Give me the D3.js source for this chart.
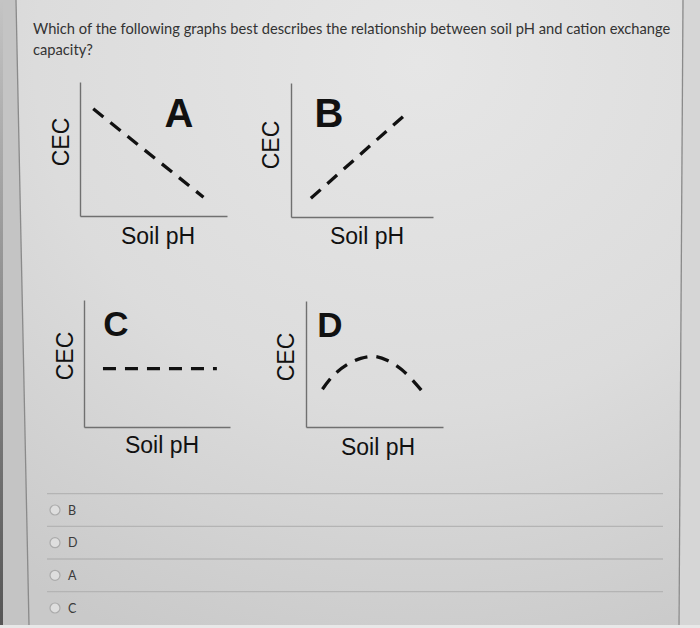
<!DOCTYPE html>
<html lang="en">
  <head>
    <title>Soil pH vs CEC</title>
    <meta charset="utf-8"/>
    <script type="text/javascript" src="https://cdn.jsdelivr.net/npm/d3@7"></script>
    <style>
     body { margin: 0; background: #d8d8d8; }
     svg { display: block; }
    </style>
  </head>
  <body>
    <script type="text/javascript">
     // data ------------------------------------------------------------------
     const questionLines = ["Which of the following graphs best describes the relationship between soil pH and cation exchange",
                            "capacity?"];
     const panelLabels = ["A", "B", "C", "D"];
     const xTitle = "Soil pH";
     const yTitle = "CEC";
     // [soil pH, CEC] on a 0..10 sketch scale
     const lineA = [[0.9, 8.0], [8.4, 1.4]];
     const lineB = [[1.4, 1.4], [8.0, 7.6]];
     const lineC = [[1.3, 4.6], [9.1, 4.6]];
     const lineD = [[1.2, 3.0], [2.0, 4.1], [3.0, 4.95], [4.0, 5.45], [5.0, 5.6],
                    [6.0, 5.25], [7.0, 4.55], [8.0, 3.45], [8.8, 2.4]];
     const answerOptions = ["B", "D", "A", "C"];

     // layout (pixel frame of each small graph) --------------------------------
     const frames = [
       {x0: 80,  y0: 216, w: 147, h: 134, lx: 179, ly: 127, ls: 40, cx: 61,  cy: 142, px: 158, py: 244, data: lineA},
       {x0: 291, y0: 217, w: 142, h: 134, lx: 329, ly: 127, ls: 40, cx: 271, cy: 145, px: 367, py: 244, data: lineB},
       {x0: 84,  y0: 427, w: 146, h: 127, lx: 116, ly: 336, ls: 35, cx: 65,  cy: 356, px: 162, py: 453, data: lineC},
       {x0: 306, y0: 427, w: 137, h: 126, lx: 330, ly: 337, ls: 35, cx: 286, cy: 357, px: 378, py: 455, data: lineD}
     ];

     const W = 700, H = 628;
     const svg = d3.select("body").append("svg").attr("width", W).attr("height", H);

     // photographed screen background -------------------------------------------
     const defs = svg.append("defs");
     const rg = defs.append("radialGradient").attr("id", "vig")
                    .attr("cx", "0.6").attr("cy", "0.1").attr("r", "1.0");
     rg.append("stop").attr("offset", "0").attr("stop-color", "#e6e6e6");
     rg.append("stop").attr("offset", "0.55").attr("stop-color", "#dcdcdc");
     rg.append("stop").attr("offset", "1").attr("stop-color", "#c9c9c9");
     const eg = defs.append("linearGradient").attr("id", "edge")
                    .attr("x1", 0).attr("y1", 0).attr("x2", 0).attr("y2", 1);
     eg.append("stop").attr("offset", "0").attr("stop-color", "#555").attr("stop-opacity", 0);
     eg.append("stop").attr("offset", "1").attr("stop-color", "#555").attr("stop-opacity", 1);

     svg.append("rect").attr("width", W).attr("height", H).attr("fill", "url(#vig)");
     // darker strip left of the panel
     svg.append("path")
        .attr("d", "M0,0 L16,0 L29,625 L0,628 Z")
        .attr("fill", "#c4c4c4");
     svg.append("rect").attr("x", 0).attr("width", 3).attr("height", H).attr("fill", "url(#edge)");
     // lighter strip right of the panel
     svg.append("path")
        .attr("d", "M683,0 L700,0 L700,628 L678,628 Z")
        .attr("fill", "#d6d6d6");
     // lighter bottom edge
     svg.append("rect").attr("x", 0).attr("y", 625).attr("width", W).attr("height", 3).attr("fill", "#e8e8e8");
     // panel borders
     svg.append("line").attr("x1", 16).attr("y1", 0).attr("x2", 29).attr("y2", 625)
        .attr("stroke", "#8a8a8a").attr("stroke-width", 1.3);
     svg.append("line").attr("x1", 683).attr("y1", 0).attr("x2", 679).attr("y2", 625)
        .attr("stroke", "#8a8a8a").attr("stroke-width", 1.3);

     // question text -------------------------------------------------------------
     const q = svg.append("g").attr("font-family", "Lato, sans-serif").attr("fill", "#333");
     const q1 = q.append("text").attr("x", 33).attr("y", 34).attr("font-size", 16).text(questionLines[0]);
     const fs = 16 * 638 / q1.node().getComputedTextLength();
     q1.attr("font-size", fs);
     q.append("text").attr("x", 33).attr("y", 55).attr("font-size", fs).text(questionLines[1]);

     // the four sketch graphs --------------------------------------------------------
     frames.forEach((f, i) => {
       const x = d3.scaleLinear().domain([0, 10]).range([f.x0, f.x0 + f.w]);
       const y = d3.scaleLinear().domain([0, 10]).range([f.y0, f.y0 - f.h]);
       const g = svg.append("g");

       g.append("g").attr("transform", "translate(0," + f.y0 + ")")
        .call(d3.axisBottom(x).ticks(0).tickSizeOuter(0))
        .select(".domain").attr("stroke", "#707070").attr("stroke-width", 1.4);
       g.append("g").attr("transform", "translate(" + f.x0 + ",0)")
        .call(d3.axisLeft(y).ticks(0).tickSizeOuter(0))
        .select(".domain").attr("stroke", "#707070").attr("stroke-width", 1.4);

       const line = d3.line()
                      .x(d => x(d[0]))
                      .y(d => y(d[1]))
                      .curve(d3.curveCardinal);
       g.append("path")
        .attr("d", line(f.data))
        .attr("fill", "none")
        .attr("stroke", "#111")
        .attr("stroke-width", 3.3)
        .attr("stroke-dasharray", "13,9");

       g.append("text")
        .attr("x", f.lx).attr("y", f.ly)
        .attr("text-anchor", "middle")
        .attr("font-family", "Liberation Sans, Arial, sans-serif")
        .attr("font-weight", "bold")
        .attr("font-size", f.ls)
        .attr("fill", "#111")
        .text(panelLabels[i]);

       g.append("text")
        .attr("transform", "translate(" + f.cx + "," + f.cy + ") rotate(-90)")
        .attr("text-anchor", "middle")
        .attr("dominant-baseline", "central")
        .attr("font-family", "Liberation Sans, Arial, sans-serif")
        .attr("font-size", 23)
        .attr("fill", "#111")
        .text(yTitle);

       g.append("text")
        .attr("x", f.px).attr("y", f.py)
        .attr("text-anchor", "middle")
        .attr("font-family", "Liberation Sans, Arial, sans-serif")
        .attr("font-size", 23)
        .attr("fill", "#111")
        .text(xTitle);
     });

     // answer options ------------------------------------------------------------------
     const oy = d3.scalePoint().domain(answerOptions).range([510, 608]);
     const step = oy.step();

     svg.selectAll("line.sep")
        .data(answerOptions)
        .enter()
        .append("line")
        .attr("class", "sep")
        .attr("x1", 47).attr("x2", 663)
        .attr("y1", d => oy(d) - step / 2)
        .attr("y2", d => oy(d) - step / 2)
        .attr("stroke", "#b4b4b4")
        .attr("stroke-width", 1.4);

     svg.selectAll("circle.radio")
        .data(answerOptions)
        .enter()
        .append("circle")
        .attr("class", "radio")
        .attr("cx", 55)
        .attr("cy", d => oy(d))
        .attr("r", 5)
        .attr("fill", "#dedede")
        .attr("stroke", "#ababab")
        .attr("stroke-width", 1.2);

     svg.selectAll("text.opt")
        .data(answerOptions)
        .enter()
        .append("text")
        .attr("class", "opt")
        .attr("x", 68)
        .attr("y", d => oy(d) + 4.5)
        .attr("font-family", "Lato, sans-serif")
        .attr("font-size", 12.5)
        .attr("fill", "#3a3a3a")
        .text(d => d);
    </script>
  </body>
</html>
